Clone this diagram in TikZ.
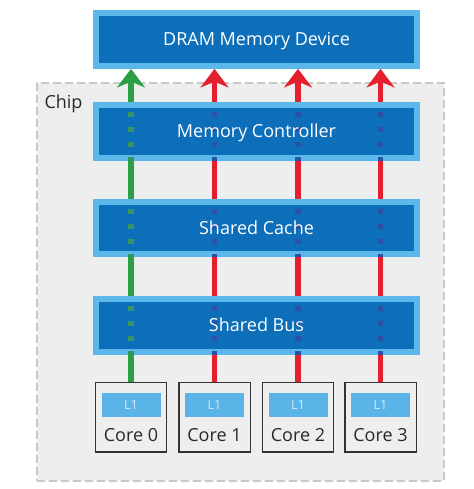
\documentclass[tikz,border=0pt]{standalone}
\usepackage{fontspec}
\setmainfont{Open Sans}
\usepackage{tikz}
\usetikzlibrary{positioning, calc, arrows.meta}

\definecolor{boxdark}{RGB}{13,110,185}
\definecolor{boxlight}{RGB}{92,183,234}
\definecolor{chipfill}{RGB}{238,238,238}
\definecolor{chipline}{RGB}{200,200,200}
\definecolor{coreline}{RGB}{51,51,51}
\definecolor{lonefill}{RGB}{90,180,232}
\definecolor{lonetext}{RGB}{210,232,248}
\definecolor{busgreen}{RGB}{43,160,70}
\definecolor{busred}{RGB}{227,32,43}
\definecolor{dashgreen}{RGB}{55,150,95}
\definecolor{dashred}{RGB}{40,82,165}

\pgfdeclarelayer{background}
\pgfdeclarelayer{arrows}
\pgfdeclarelayer{front}
\pgfdeclarelayer{labels}
\pgfsetlayers{background,arrows,main,front,labels}

\tikzset{
	unitbox/.style={draw=boxlight, fill=boxdark, line width=4.5pt, minimum width=240.5pt, minimum height=39.5pt, inner sep=0pt},
	unittext/.style={text=white, inner sep=0pt, text height=9.6pt, text depth=0pt, font=\fontsize{13.5}{16}\selectfont},
	corebox/.style={draw=coreline, fill=chipfill, line width=1.1pt, minimum width=53.6pt, minimum height=52.1pt, inner sep=0pt},
	lonebox/.style={fill=lonefill, text=lonetext, minimum width=44.25pt, minimum height=18pt, inner sep=0pt, font=\fontsize{9.5}{11}\selectfont},
	coretext/.style={text=coreline!80!black, inner sep=0pt, font=\fontsize{13.5}{16}\selectfont},
	chipbox/.style={draw=chipline, fill=chipfill, line width=1.1pt, dash pattern=on 6pt off 3pt, minimum width=305.25pt, minimum height=298.5pt, inner sep=0pt},
	busline/.style={line width=4.2pt, -{Stealth[length=14pt, width=21pt, inset=4.5pt]}},
	dashover/.style={line width=4.2pt, dash pattern=on 3.75pt off 7.5pt, dash phase=3.75pt}
}

\begin{document}
\begin{tikzpicture}[x=0.75pt, y=0.75pt]
	\useasboundingbox (0,0) rectangle (474,489);
	
	% chip area
	\begin{pgfonlayer}{background}
		\node[chipbox] (chip) at (240.5,207) {};
		\node[coretext, anchor=north west] (chipname) at ($(chip.north west)+(8,-12)$) {Chip};
	\end{pgfonlayer}
	
	\node[unitbox] (dram) at (256.5,449.5) {};
	\node[unitbox] (mc) at (256.5,357.5) {};
	\node[unitbox] (sc) at (256.5,261) {};
	\node[unitbox] (sb) at (256.5,163.5) {};
	
	\begin{pgfonlayer}{labels}
		\node[unittext] (dramname) at (dram) {DRAM Memory Device};
		\node[unittext] (mcname) at (mc) {Memory Controller};
		\node[unittext] (scname) at (sc) {Shared Cache};
		\node[unittext] (sbname) at (sb) {Shared Bus};
	\end{pgfonlayer}
	
	% cores with their L1
	\foreach \i/\x in {0/131,1/214.5,2/298,3/380.5} {
		\node[corebox] (core\i) at (\x,71.5) {};
		\node[lonebox, below=7.9pt of core\i.north] (lone\i) {L1};
		\node[coretext] (name\i) at ($(core\i.south)+(0,18)$) {Core \i};
	}
	
	% paths to memory
	\begin{pgfonlayer}{arrows}
		\draw[busline, busgreen] (core0.north) -- (core0.north |- dram.south);
		\foreach \i in {1,2,3}
			\draw[busline, busred] (core\i.north) -- (core\i.north |- dram.south);
	\end{pgfonlayer}
	
	\begin{pgfonlayer}{front}
		\foreach \b in {mc,sc,sb} {
			\draw[dashover, dashgreen] (core0.north |- \b.north) -- (core0.north |- \b.south);
			\foreach \i in {1,2,3}
				\draw[dashover, dashred] (core\i.north |- \b.north) -- (core\i.north |- \b.south);
		}
	\end{pgfonlayer}
\end{tikzpicture}
\end{document}
